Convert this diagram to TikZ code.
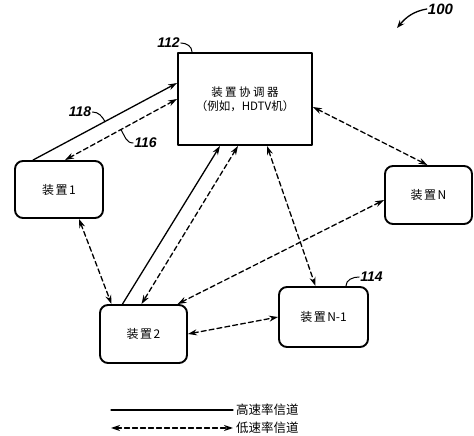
\documentclass[tikz,border=0pt]{standalone}
\usepackage{fontspec}
\newfontfamily\cjk{Noto Sans CJK SC}
\newfontfamily\numfont{Liberation Sans}
\usetikzlibrary{arrows.meta}
\tikzset{
  device/.style={draw,line width=1.9pt,rounded corners=8pt,minimum width=87pt,minimum height=58pt,font=\cjk\fontsize{12}{14}\selectfont},
  hub/.style={draw,line width=1.9pt,minimum width=134pt,minimum height=92pt,align=center,font=\cjk\fontsize{11.5}{14}\selectfont},
  fast/.style={line width=1.3pt,-{Stealth[length=9pt,width=6pt]}},
  slow/.style={line width=1.3pt,dash pattern=on 5pt off 3pt,{Stealth[length=9pt,width=6pt]}-{Stealth[length=9pt,width=6pt]}},
  refnum/.style={font=\numfont\bfseries\itshape\fontsize{14}{16}\selectfont,inner sep=1pt},
  leader/.style={line width=1pt},
  legendtext/.style={font=\cjk\fontsize{12.5}{14}\selectfont,anchor=west,inner sep=3pt},
}
\begin{document}
\begin{tikzpicture}[x=1pt,y=1pt,line cap=round,line join=round]
\useasboundingbox (0,0) rectangle (474,436);
% boxes
\node[hub] (hub) at (245,337) {装\hspace{2.5pt}置\hspace{2.5pt}协\hspace{2.5pt}调\hspace{2.5pt}器\\（例如，HDTV机）};
\node[device,minimum width=88pt,minimum height=57pt] (dev1) at (59,246.5) {装\hspace{1.5pt}置\hspace{1.5pt}1};
\node[device] (devN) at (428.5,241) {装\hspace{1.5pt}置\hspace{1.5pt}N};
\node[device] (dev2) at (143.5,102) {装\hspace{1.5pt}置\hspace{1.5pt}2};
\node[device,minimum width=89pt,minimum height=60pt] (devNm) at (323.5,119) {装\hspace{1.5pt}置\hspace{1.5pt}N-1};

% channels
\draw[fast] ([xshift=-26pt]dev1.north) -- coordinate[pos=0.5] (c118) ([yshift=16pt]hub.west);
\draw[slow] (hub.west) -- coordinate[pos=0.5] (c116) ([xshift=6pt]dev1.north);
\draw[fast] ([xshift=-21pt]dev2.north) -- ([xshift=-25pt]hub.south);
\draw[slow] ([xshift=-7pt]hub.south) -- ([xshift=-2pt]dev2.north);
\draw[slow] ([xshift=22pt]hub.south) -- ([xshift=-8pt]devNm.north);
\draw[slow] ([yshift=-8pt]hub.east) -- ([xshift=-1pt]devN.north);
\draw[slow] ([yshift=-5pt]devN.west) -- ([xshift=34pt]dev2.north);
\draw[slow] ([xshift=20pt]dev1.south) -- ([xshift=-32pt]dev2.north);
\draw[slow] (dev2.east) -- (devNm.west);

% reference numerals
\node[refnum,font=\numfont\bfseries\itshape\fontsize{15}{17}\selectfont] (l100) at (440.5,427) {100};
\coordinate (c100) at (397,408);
\draw[leader,line width=1.3pt,-{Stealth[length=8pt,width=6pt]}] (l100.west) to[out=190,in=50] (c100);
\node[refnum] (l112) at (168.5,393) {112};
\draw[leader] (l112.east) to[out=0,in=90] ([xshift=15pt]hub.north west);
\node[refnum] (l118) at (80,324) {118};
\draw[leader] (l118.east) to[out=0,in=120] (c118);
\node[refnum] (l116) at (145.5,293) {116};
\draw[leader] (l116.west) to[out=180,in=-60] (c116);
\node[refnum] (l114) at (371.5,159) {114};
\draw[leader] (l114.west) to[out=180,in=90] ([xshift=-23pt]devNm.north east);

% legend
\node[legendtext] (fastL) at (233,26) {高速率信道};
\node[legendtext] (slowL) at (233,8) {低速率信道};
\coordinate (fastA) at (111,26);
\coordinate (slowA) at (111,8);
\draw[line width=1.3pt] (fastA) -- (fastL.west);
\draw[slow] (slowA) -- (slowL.west);
\end{tikzpicture}
\end{document}
